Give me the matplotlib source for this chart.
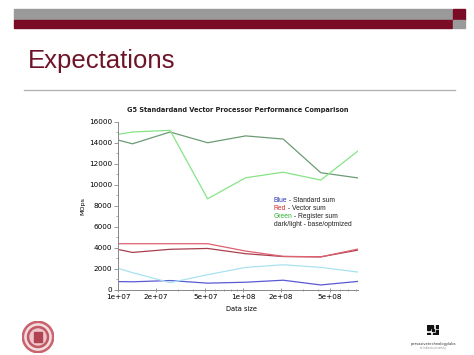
import matplotlib
matplotlib.use("Agg")
import matplotlib.pyplot as plt
from matplotlib.patches import Rectangle, Circle
from matplotlib.ticker import FixedLocator, LogLocator, MultipleLocator, FuncFormatter

# data
sizes = [1.0e7, 1.3e7, 2.6e7, 5.2e7, 1.05e8, 2.1e8, 4.2e8, 8.4e8]
std_base = [800, 780, 900, 650, 740, 930, 480, 820]
std_opt = [2050, 1650, 700, 1450, 2150, 2400, 2150, 1700]
vec_base = [3850, 3570, 3870, 3950, 3450, 3180, 3150, 3800]
vec_opt = [4400, 4400, 4400, 4400, 3700, 3200, 3150, 3900]
reg_base = [14250, 13900, 15020, 14000, 14650, 14350, 11150, 10650]
reg_opt = [14800, 15020, 15180, 8670, 10670, 11200, 10450, 13240]
x_ticks = [1e7, 2e7, 5e7, 1e8, 2e8, 5e8]

W, H = 474, 355
fig = plt.figure(figsize=(W / 100, H / 100), dpi=100)
fig.patch.set_facecolor("white")


def fx(px):
    return px / W


def fy(py):
    return 1 - py / H


# slide header bars
maroon = "#7a0c26"
gray = "#9a9a9a"
fig.patches.append(Rectangle((fx(14), fy(19.5)), fx(438), 10.5 / H, transform=fig.transFigure, color=gray))
fig.patches.append(Rectangle((fx(14), fy(27.5)), fx(438), 8 / H, transform=fig.transFigure, color=maroon))
fig.patches.append(Rectangle((fx(452.5), fy(19.5)), fx(12.5), 10.5 / H, transform=fig.transFigure, color=maroon))
fig.patches.append(Rectangle((fx(452.5), fy(27.5)), fx(12.5), 8 / H, transform=fig.transFigure, color=gray))

fig.text(fx(28), fy(68), "Expectations", fontsize=18.5, color="#6e1428",
         family="Liberation Sans", ha="left", va="baseline")
fig.lines.append(plt.Line2D([fx(24), fx(455)], [fy(90), fy(90)], transform=fig.transFigure,
                            color="#b4b4b4", lw=1.0))

# chart
ax = fig.add_axes([fx(118.3), fy(290), fx(358.3 - 118.3), (290 - 121.7) / H])
ax.plot(sizes, std_base, color="#5a5ad2", lw=0.9)
ax.plot(sizes, std_opt, color="#a8e2f0", lw=0.9)
ax.plot(sizes, vec_base, color="#a8404e", lw=0.9)
ax.plot(sizes, vec_opt, color="#e0606e", lw=0.9)
ax.plot(sizes, reg_base, color="#6c9c74", lw=0.9)
ax.plot(sizes, reg_opt, color="#86e486", lw=0.9)

ax.set_xscale("log")
ax.set_xlim(sizes[0], sizes[-1])
ax.set_ylim(0, 16000)
ax.xaxis.set_major_locator(FixedLocator(x_ticks))
ax.xaxis.set_major_formatter(FuncFormatter(lambda v, p: f"{v:.0e}"))
ax.xaxis.set_minor_locator(LogLocator(base=10, subs=(3, 4, 6, 7, 8, 9)))
ax.xaxis.set_minor_formatter(FuncFormatter(lambda v, p: ""))
ax.yaxis.set_major_locator(MultipleLocator(2000))
ax.yaxis.set_minor_locator(MultipleLocator(1000))

for s in ["top", "right"]:
    ax.spines[s].set_visible(False)
for s in ["left", "bottom"]:
    ax.spines[s].set_color("#888888")
    ax.spines[s].set_linewidth(0.7)
ax.tick_params(axis="both", which="major", labelsize=5.2, length=3, width=0.6, color="#888888", pad=1.5)
ax.tick_params(axis="both", which="minor", length=1.8, width=0.5, color="#888888")
ax.tick_params(axis="x", which="both", direction="inout")
ax.patch.set_alpha(0)

fig.text(fx(238), fy(110), "G5 Standardand Vector Processor Performance Comparison",
         fontsize=4.8, fontweight="bold", ha="center", va="center", color="#222222")
fig.text(fx(83), fy(206), "MOps", fontsize=4.6, rotation=90, ha="center", va="center")
fig.text(fx(242), fy(309), "Data size", fontsize=4.8, ha="center", va="center")

# colour key written as text
key = [("Blue", "#2a36a8", " - Standard sum"),
       ("Red", "#d42828", " - Vector sum"),
       ("Green", "#30b030", " - Register sum"),
       ("", "#222222", "dark/light - base/optmized")]
key_y = [200.7, 208.7, 216.7, 224.7]
for (word, col, rest), py in zip(key, key_y):
    t = fig.text(fx(273.5), fy(py), word, fontsize=4.9, color=col,
                 family="Liberation Sans", ha="left", va="center")
    fig.canvas.draw()
    ax.annotate(rest, xy=(1, 0.5), xycoords=t, fontsize=4.9, color="#222222",
                family="Liberation Sans", ha="left", va="center")

# university seal (bottom left)
seal = fig.add_axes([fx(22), fy(353), fx(32), 32 / H])
seal.set_xlim(-1, 1)
seal.set_ylim(-1, 1)
seal.set_aspect("equal")
seal.axis("off")
seal.add_patch(Circle((0, 0), 0.98, color="#c9646e"))
seal.add_patch(Circle((0, 0), 0.82, color="#f4dde0"))
seal.add_patch(Circle((0, 0), 0.66, color="#c25a66"))
seal.add_patch(Circle((0, 0), 0.5, color="#eec8cc"))
seal.add_patch(Rectangle((-0.25, -0.3), 0.5, 0.6, color="#b04452"))

# lab logo (bottom right)
logo = fig.add_axes([fx(427), fy(335), fx(12), 10 / H])
logo.set_xlim(0, 4)
logo.set_ylim(0, 4)
logo.axis("off")
for bx, by in [(0, 3), (1, 3), (3, 3), (0, 2), (3, 1), (0, 0), (2, 0), (3, 0), (1.5, 1.5)]:
    logo.add_patch(Rectangle((bx, by), 0.9, 0.9, color="#111111"))
fig.text(fx(433), fy(343.5), "pervasivetechnologylabs", fontsize=2.6, ha="center", va="center",
         color="#333333")
fig.text(fx(433), fy(348), "at indiana university", fontsize=1.8, ha="center", va="center",
         color="#888888")

fig.savefig("out.png", dpi=100)
